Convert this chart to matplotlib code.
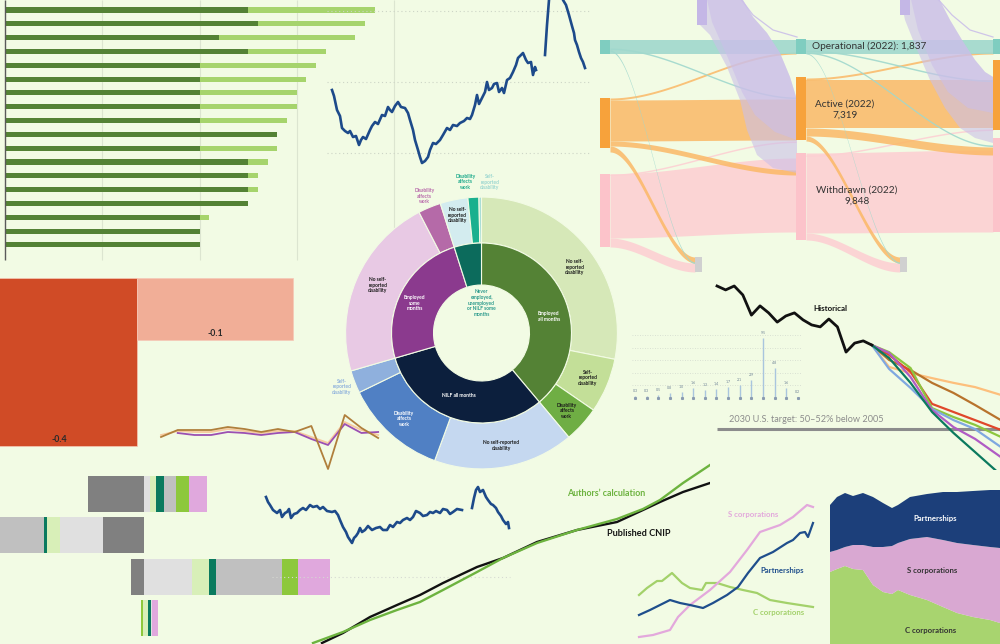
import numpy as np
import matplotlib
matplotlib.use("Agg")
import matplotlib.pyplot as plt

plt.rcParams['font.family'] = ['Lato', 'DejaVu Sans']
nan = np.nan

# ---------------- data ----------------
# top-left horizontal bars
hb_dark = [2.5, 2.6, 2.2, 2.5, 2.0, 2.0, 2.0, 2.0, 2.0, 2.8, 2.0, 2.5, 2.5, 2.5, 2.5, 2.0, 2.0, 2.0]
hb_total = [3.8, 3.7, 3.6, 3.3, 3.2, 3.1, 3.0, 3.0, 2.9, 2.8, 2.8, 2.7, 2.6, 2.6, 2.5, 2.1, 2.0, 2.0]
hb_grid = [1, 2, 3, 4]

# top blue index line
bt_t = [12, 14, 17, 20, 22, 25, 28, 30, 33, 36, 39, 41, 43, 46, 50, 52, 55, 58, 62, 65,
        68, 70, 72, 75, 78, 81, 85, 88, 90, 93, 95, 98, 100, 102, 105, 108, 110, 113, 116, 120,
        123, 127, 130, 133, 137, 140, 144, 147, 150, 152, 155, 157, 159, 162, 165, 167, 169, 172, 174, 177,
        179, 182, 184, 187, 190, 193, 196, 198, 201, 203, 206, 208, 211, 213, 215, 216,
        nan, 225, 227, 229, 230,
        nan, 241, 243, 246, 249, 252, 254, 255, 257, 259, 261, 263, 265]
bt_v = [80, 74, 60, 54, 42, 39, 37, 39, 33, 34, 25, 30, 33, 31, 40, 44, 48, 46, 55, 54,
        63, 60, 58, 64, 68, 63, 62, 57, 50, 40, 30, 20, 13, 7, 9, 13, 20, 27, 26, 30,
        35, 42, 40, 45, 44, 47, 49, 52, 51, 55, 65, 75, 66, 72, 78, 88, 80, 82, 86, 87,
        78, 82, 77, 90, 92, 98, 105, 112, 115, 117, 110, 107, 108, 95, 103, 100,
        nan, 115, 145, 170, 180,
        nan, 180, 170, 165, 155, 144, 137, 130, 125, 118, 112, 108, 102]
bt_grid = [17, 88, 159]

# bottom blue index line
bb_t = [16, 18, 20, 23, 27, 30, 32, 35, 37, 39, 41, 44, 47, 50, 53, 56, 60, 63, 67, 70,
        73, 77, 82, 85, 88, 90, 93, 96, 98, 100, 102, 104, 106, 108, 110, 112, 115, 118, 122, 126,
        130, 133, 137, 140, 143, 147, 150, 153, 157, 160, 163, 166, 170, 173, 177, 180, 183, 186, 190, 193,
        197, 200, 203, 207, 212,
        nan, 222, 224, 226, 228, 230, 233, 236, 238, 241, 243, 246, 248, 251, 253, 256, 258, 259]
bb_v = [53, 48, 45, 40, 37, 40, 33, 37, 38, 41, 32, 36, 37, 40, 42, 40, 45, 43, 44, 41,
        43, 39, 38, 39, 35, 30, 23, 18, 13, 10, 7, 12, 14, 17, 22, 18, 20, 24, 20, 22,
        23, 20, 20, 25, 23, 28, 27, 30, 32, 30, 33, 39, 37, 34, 35, 38, 37, 39, 37, 41,
        40, 36, 38, 41, 40,
        nan, 42, 52, 60, 63, 58, 60, 53, 50, 46, 45, 42, 38, 34, 30, 26, 28, 22]

# CNIP comparison
cn_t = [12, 33, 60, 87, 110, 133, 167, 193, 227, 267, 307, 333, 350, 373, 400]
cn_pub = [1, 11, 27, 39, 49, 61, 77, 86, 102, 114, 122, 134, 142, 152, 161]
cn_t2 = [3, 33, 60, 87, 110, 133, 167, 193, 227, 267, 307, 333, 350, 373, 400]
cn_auth = [1, 12, 24, 34, 42, 54, 72, 86, 101, 114, 125, 135, 144, 161, 179]

# business forms lines
bf_c_t = [19, 27, 37, 42, 52, 62, 70, 82, 86, 97, 110, 123, 137, 150, 167, 180, 193]
bf_c = [49, 56, 63, 63, 71, 61, 56, 54, 61, 61, 57, 54, 51, 44, 41, 39, 37]
bf_p_t = [19, 30, 40, 50, 60, 70, 83, 93, 107, 118, 128, 140, 153, 167, 173, 180, 185, 188, 193]
bf_p = [29, 34, 39, 44, 41, 39, 36, 41, 49, 57, 71, 86, 92, 101, 104, 111, 112, 107, 121]
bf_s_t = [19, 33, 50, 58, 70, 90, 110, 127, 140, 160, 173, 187, 193]
bf_s = [7, 9, 14, 27, 39, 54, 72, 94, 112, 119, 127, 139, 137]

# stacked area shares
ar_t = [0, 7, 15, 23, 33, 43, 53, 62, 68, 80, 97, 113, 127, 143, 160, 170]
ar_c = [72, 75, 78, 75, 74, 59, 52, 50, 54, 49, 44, 37, 31, 27, 24, 21]
ar_s = [20, 19, 19, 24, 25, 38, 45, 48, 47, 56, 63, 67, 70, 72, 73, 75]
ar_p = [47, 53, 54, 49, 52, 50, 44, 38, 38, 42, 43, 48, 51, 54, 57, 58]

# emissions (% of 2005)
em_years = list(range(2005, 2024))
em_hist = [100, 98.6, 100, 96.8, 89.6, 92.9, 90.4, 87.1, 89.3, 90.4, 87.9, 86.1, 85.4, 88.2, 85.4, 76.4, 79.6, 80.4, 78.9]
proj_years = [2023, 2025, 2027.5, 2030, 2032.5, 2035, 2038]
proj_orange = [78.9, 71.1, 68.9, 67.1, 65.4, 63.9, 61.1]
proj_brown = [78.9, 73.6, 70.0, 65.4, 61.8, 57.5, 52.1]
proj_red = [78.9, 75.4, 69.3, 57.9, 55.0, 52.1, 48.6]
proj_green = [78.9, 76.4, 70.7, 56.4, 53.2, 50.4, 46.1]
proj_blue = [78.9, 70.4, 63.6, 56.1, 52.1, 48.9, 42.5]
proj_purple = [78.9, 76.1, 67.5, 55.7, 49.6, 45.4, 38.9]
proj_dkgreen = [78.9, 74.3, 65.4, 55.0, 47.5, 40.7, 32.5]
target_value = 49
target_label = "2030 U.S. target: 50\u201352% below 2005"

# lollipop
lp_vals = [0.3, 0.3, 0.5, 0.8, 1.0, 1.6, 1.3, 1.4, 1.7, 2.1, 2.9, 9.5, 4.8, 1.6, 0.2]
lp_grid = [2, 4, 6, 8, 10]

# red bars
rb_vals = [-0.40, -0.148]

# small multi-line
ml_brown = [0.3, 1.0, 1.0, 1.0, 1.3, 1.1, 0.8, 1.1, 0.8, 1.4, -2.9, 2.5, 1.2, 0.2]
ml_purple = [nan, 0.7, 0.5, 0.5, 0.8, 0.7, 0.5, 0.7, 0.8, 0.1, -0.5, 1.6, 0.7, 0.8]
ml_peach = [0.5, 0.9, 0.8, 0.8, 1.1, 0.9, 0.7, 0.9, 0.9, 0.3, -0.3, 1.8, 1.0, 0.5]

# segmented bars
sg_start = [88, 0, 131, 141]
sg_widths = [[56, 6, 6, 8, 12, 13, 18],
             [44, 3, 13, 43, 41],
             [13, 48, 17, 7, 66, 16, 32],
             [1.7, 5, 3, 1.6, 6]]
sg_keys = [['dg', 'lg', 'pg', 'tl', 'mg', 'gr', 'pk'],
           ['mg', 'tl', 'pg', 'lg', 'dg'],
           ['dg', 'lg', 'pg', 'tl', 'mg', 'gr', 'pk'],
           ['gr', 'pg', 'tl', 'lg', 'pk']]

# donut
dn_inner = [38.9, 31.6, 24.6, 4.9]
dn_inner_lab = ["Employed\nall months", "NILF all months", "Employed\nsome\nmonths",
                "Never\nemployed,\nunemployed\nor NILF some\nmonths"]
dn_outer = [28.1, 6.5, 4.3, 16.7, 12.2, 2.7, 21.9, 2.7, 3.3, 1.3, 0.3]
dn_outer_lab = ["No self-\nreported\ndisability", "Self-\nreported\ndisability", "Disability\naffects\nwork",
                "No self-reported\ndisability", "Disability\naffects\nwork", "Self-\nreported\ndisability",
                "No self-\nreported\ndisability", "Disability\naffects\nwork",
                "No self-\nreported\ndisability", "Disability\naffects\nwork", "Self-\nreported\ndisability"]

# sankey node values
sk_names = ["Operational (2022)", "Active (2022)", "Withdrawn (2022)"]
sk_vals = [1837, 7319, 9848]

# ---------------- figure ----------------
BG = '#f2fbe4'
W, H = 1000, 644
fig = plt.figure(figsize=(10, 6.44), dpi=100, facecolor=BG)


def px_axes(x, y, w, h, z=1):
    ax = fig.add_axes([x / W, 1 - (y + h) / H, w / W, h / H], zorder=z)
    ax.set_axis_off()
    return ax


# A: top-left bars
ax = px_axes(5, 0, 389, 260, 1)
ax.set_xlim(0, 4)
ax.set_ylim(18.09, -0.72)
rows = np.arange(len(hb_dark))
ax.vlines(hb_grid, -0.72, 18.09, color='#dce5d0', lw=0.8, zorder=0, clip_on=False)
ax.vlines(0, -0.72, 18.09, color='#5a5a5a', lw=1.0, zorder=3, clip_on=False)
ax.barh(rows, hb_dark, height=0.37, color='#548235', zorder=2)
ax.barh(rows, np.array(hb_total) - np.array(hb_dark), left=hb_dark, height=0.37,
        color='#a6d46c', zorder=2)

# B: top blue line
ax = px_axes(320, 0, 280, 170, 2)
ax.set_xlim(0, 280)
ax.set_ylim(0, 170)
ax.hlines(bt_grid, 7, 270, color='#cdd5c6', lw=0.8, linestyles=(0, (1, 2.5)), zorder=0)
ax.plot(bt_t, bt_v, color='#1d4a8a', lw=1.9, solid_joinstyle='round')

# Sankey
ax = px_axes(600, 0, 400, 280, 2)
ax.set_xlim(600, 1000)
ax.set_ylim(280, 0)
band_col = {'teal': ('#a0d8cd', 0.9), 'orange': ('#fbb866', 0.85), 'pink': ('#fdd0d3', 0.9),
            'lav': ('#cbbfe9', 0.6)}
node_col = {'teal': '#7fcdc0', 'orange': '#f7a23b', 'pink': '#fcc3ca', 'gray': '#d0d0d0',
            'lav': '#c4b7e6'}


def band(x0, a0, a1, x1, b0, b1, kind, z):
    xs = np.linspace(x0, x1, 80)
    t = (xs - x0) / (x1 - x0)
    s = t * t * (3 - 2 * t)
    c, a = band_col[kind]
    ax.fill_between(xs, a0 + (b0 - a0) * s, a1 + (b1 - a1) * s, color=c, alpha=a, lw=0, zorder=z)


sk_flows = [
    (610, 174, 238, 796, 158, 232, 'pink'),
    (610, 238, 247, 695, 263, 272, 'pink'),
    (610, 174, 175.5, 796, 141, 142.5, 'pink'),
    (806, 153, 233, 993, 150, 232, 'pink'),
    (806, 233, 240, 900, 263, 272, 'pink'),
    (806, 155, 156.5, 993, 129, 130.5, 'pink'),
    (610, 100, 141, 796, 99, 140, 'orange'),
    (610, 98, 100, 796, 52, 54, 'orange'),
    (610, 141, 146, 796, 170, 175, 'orange'),
    (610, 146, 152, 695, 257, 263, 'orange'),
    (806, 80, 128, 993, 80, 128, 'orange'),
    (806, 78, 80, 993, 52, 54, 'orange'),
    (806, 128, 136, 993, 147, 155, 'orange'),
    (806, 136, 141, 900, 257, 263, 'orange'),
    (610, 40, 54, 796, 40, 54, 'teal'),
    (806, 40, 54, 993, 40, 54, 'teal'),
    (610, 50, 51.5, 695, 262, 263.5, 'teal'),
    (610, 48, 49.5, 796, 97, 98.5, 'teal'),
    (806, 50, 51.5, 993, 80, 81.5, 'teal'),
    (806, 52, 53.5, 993, 145, 146.5, 'teal'),
    (806, 53, 54, 900, 262, 263.5, 'teal'),
]
for f in sk_flows:
    band(*f, z=2)

# lavender links entering from a node above the view (outline: outer edge, inner edge)
lav_links = [
    ([(697, -5), (700, 25), (710, 35), (727, 67), (740, 100), (747, 130), (757, 155), (773, 168), (797, 173)],
     [(740, -5), (753, 17), (767, 33), (780, 53), (790, 77), (797, 100)]),
    ([(706, -5), (712, 22), (728, 58), (742, 92), (755, 115), (775, 132), (797, 140)],
     [(740, -5), (753, 17), (767, 33), (780, 53), (790, 77), (797, 100)]),
    ([(900, -5), (905, 20), (915, 45), (930, 80), (945, 108), (960, 128), (975, 138), (993, 143)],
     [(937, -5), (950, 20), (962, 40), (975, 60), (985, 72), (993, 77)]),
    ([(910, -5), (918, 30), (932, 65), (948, 92), (968, 108), (993, 113)],
     [(937, -5), (950, 20), (962, 40), (975, 60), (985, 72), (993, 77)]),
]
lc, la = band_col['lav']
for outer, inner in lav_links:
    poly = outer + inner[::-1]
    ax.add_patch(plt.Polygon(poly, closed=True, color=lc, alpha=la, lw=0, zorder=3))
lav_threads = [[(740, -2), (753, 15), (773, 30), (797, 37)],
               [(937, -2), (952, 15), (970, 30), (993, 37)]]
for th in lav_threads:
    xs, ys = zip(*th)
    ax.plot(xs, ys, color=lc, lw=0.9, alpha=0.9, zorder=3)

sk_nodes = [
    (600, 40, 54, 'teal'), (600, 98, 148, 'orange'), (600, 174, 247, 'pink'),
    (796, 39, 54, 'teal'), (796, 77, 140, 'orange'), (796, 153, 240, 'pink'),
    (993, 39, 54, 'teal'), (993, 60, 130, 'orange'), (993, 138, 232, 'pink'),
    (695, 257, 272, 'gray'), (900, 257, 272, 'gray'),
    (697, -50, 25, 'lav'), (900, -55, 15, 'lav'),
]
for x0, y0, y1, k in sk_nodes:
    ax.add_patch(plt.Rectangle((x0, y0), 10 if k != 'gray' else 7, y1 - y0, color=node_col[k],
                               lw=0, zorder=4))
ax.text(812, 46, f"{sk_names[0]}: {sk_vals[0]:,}", fontsize=7.2, color='#333333',
        ha='left', va='center', zorder=6)
ax.text(845, 110, f"{sk_names[1]}\n{sk_vals[1]:,}", fontsize=7.2, color='#333333',
        ha='center', va='center', linespacing=1.3, zorder=6)
ax.text(857, 196, f"{sk_names[2]}\n{sk_vals[2]:,}", fontsize=7.2, color='#333333',
        ha='center', va='center', linespacing=1.3, zorder=6)

# red bars
ax = px_axes(0, 270, 300, 180, 2)
ax.set_xlim(0, 300)
ax.set_ylim(-0.4095, 0.019)
rb_centers = [59, 215]
ax.bar(rb_centers, rb_vals, width=[156, 156], color=['#d04b26', '#f1ae97'],
       edgecolor='#f6c8b6', lw=0.5)
for cx, v in zip(rb_centers, rb_vals):
    ax.text(cx, v + 0.015, f"{v:.1f}", fontsize=6.3, fontweight='bold', color='#2a2a2a',
            ha='center', va='center')

# small multi-line
ax = px_axes(150, 400, 240, 80, 2)
ax.set_xlim(-0.66, 13.71)
ax.set_ylim(-4, 4)
ix = np.arange(len(ml_brown))
ax.plot(ix, ml_peach, color='#f7c99d', lw=1.3)
ax.plot(ix, ml_purple, color='#9b4fb2', lw=1.3)
ax.plot(ix, ml_brown, color='#b07f3c', lw=1.3)

# segmented bars
ax = px_axes(0, 470, 520, 174, 2)
ax.set_xlim(0, 520)
ax.set_ylim(3.63, -0.58)
sg_col = {'dg': '#808080', 'lg': '#e0e0e0', 'mg': '#c0c0c0', 'pg': '#d8efb8', 'tl': '#0a7a5e',
          'gr': '#8dc83c', 'pk': '#e0a8dd'}
for r, (st, ws, ks) in enumerate(zip(sg_start, sg_widths, sg_keys)):
    lefts = st + np.concatenate([[0], np.cumsum(ws)[:-1]])
    ax.barh(r, ws, left=lefts, height=0.87, color=[sg_col[k] for k in ks], lw=0)
ax.hlines(2, 272, 510, color='#d6d9d2', lw=0.8, linestyles=(0, (1, 2.5)), zorder=3)

# bottom blue line
ax = px_axes(250, 480, 280, 70, 2)
ax.set_xlim(0, 280)
ax.set_ylim(0, 70)
ax.plot(bb_t, bb_v, color='#1d4a8a', lw=1.9, solid_joinstyle='round')

# CNIP
ax = px_axes(310, 460, 400, 184, 3)
ax.set_xlim(0, 400)
ax.set_ylim(0, 184)
ax.plot(cn_t, cn_pub, color='#111111', lw=1.7)
ax.plot(cn_t2, cn_auth, color='#6db33f', lw=1.7)
ax.text(257, 151, "Authors\u2019 calculation", fontsize=6.4, fontweight='bold', color='#6db33f',
        ha='left', va='center')
ax.text(297, 110, "Published CNIP", fontsize=6.6, fontweight='bold', color='#151515',
        ha='left', va='center')

# business forms lines
ax = px_axes(620, 490, 210, 154, 3)
ax.set_xlim(0, 210)
ax.set_ylim(0, 154)
ax.plot(bf_c_t, bf_c, color='#a3d16a', lw=1.6)
ax.plot(bf_s_t, bf_s, color='#e3a8dc', lw=1.6)
ax.plot(bf_p_t, bf_p, color='#1f4e8c', lw=1.6)
ax.text(108, 129, "S corporations", fontsize=5.6, fontweight='bold', color='#e3a8dc', ha='left', va='center')
ax.text(140, 74, "Partnerships", fontsize=5.6, fontweight='bold', color='#1f4e8c', ha='left', va='center')
ax.text(133, 32, "C corporations", fontsize=5.6, fontweight='bold', color='#a3d16a', ha='left', va='center')

# stacked area
ax = px_axes(830, 490, 170, 154, 3)
ax.set_xlim(0, 170)
ax.set_ylim(0, 154)
ax.stackplot(ar_t, ar_c, ar_s, ar_p, colors=['#a8d46f', '#d9a8d2', '#1c3f7a'], lw=0)
ax.text(105, 125, "Partnerships", fontsize=5.6, fontweight='bold', color='white', ha='center', va='center')
ax.text(102, 73, "S corporations", fontsize=5.6, fontweight='bold', color='#333333', ha='center', va='center')
ax.text(101, 13, "C corporations", fontsize=5.6, fontweight='bold', color='#333333', ha='center', va='center')

# lollipop
ax = px_axes(630, 330, 172, 70, 2)
ax.set_xlim(-0.43, 14.35)
ax.set_ylim(-0.32, 10.79)
li = np.arange(len(lp_vals))
ax.hlines(lp_grid, -0.3, 14.3, color='#d2d8ce', lw=0.6, linestyles=(0, (1, 2)))
ax.vlines(li, 0, lp_vals, color='#a9c5de', lw=1.0)
ax.plot(li, np.zeros(len(li)), 's', ms=1.2, color='#8a9bb0')
for i, v in zip(li, lp_vals):
    ax.text(i, v + 0.5, f"{v:.1f}", fontsize=2.6, color='#6f8396', ha='center', va='bottom')

# emissions
ax = px_axes(620, 280, 380, 190, 4)
ax.set_xlim(1993.72, 2037.9)
ax.set_ylim(34.29, 102.14)
ax.hlines(target_value, 2005, 2040, color='#8c8c8c', lw=2.2)
ax.text(2006.4, 52.3, target_label, fontsize=6.6, color='#8c8c8c', ha='left', va='center')
for ser, c in [(proj_orange, '#fdbf7c'), (proj_brown, '#b8732c'), (proj_red, '#e0472b'),
               (proj_green, '#8cc63f'), (proj_blue, '#80a8e0'), (proj_purple, '#b05cc4'),
               (proj_dkgreen, '#0b7a5e')]:
    ax.plot(proj_years, ser, color=c, lw=1.6)
ax.plot(em_years, em_hist, color='#111111', lw=2.0)
ax.text(2016.2, 92.1, "Historical", fontsize=5.8, fontweight='bold', color='#111111', ha='left', va='center')

# donut
ax = px_axes(341.5, 193, 280, 280, 5)
oc = ['#d6e8b8', '#c3df98', '#6fae44', '#c5d8f0', '#5080c4', '#8fb0dd', '#e8c9e4', '#b56aa8',
      '#d3ecef', '#1ab08e', '#a6dcd6']
ic = ['#548235', '#0c1f3d', '#8b3a8e', '#0c6b5c']
wo, _ = ax.pie(dn_outer, radius=1.0, startangle=90, counterclock=False, colors=oc,
               wedgeprops=dict(width=0.338, edgecolor=BG, linewidth=0.8))
wi, _ = ax.pie(dn_inner, radius=0.662, startangle=90, counterclock=False, colors=ic,
               wedgeprops=dict(width=0.309, edgecolor=BG, linewidth=0.8))
ax.set_xlim(-1.03, 1.03)
ax.set_ylim(-1.03, 1.03)
out_r = [0.84, 0.85, 0.85, 0.84, 0.85, 1.10, 0.84, 1.09, 0.885, 1.12, 1.11]
out_da = [-4.2, 0, 0, 0, 0, 0, -1.5, 0, 0, 2.6, -3.7]
out_tc = ['#1a1a1a', '#1a1a1a', '#1a1a1a', '#1a1a1a', 'white', '#8db0dc', '#1a1a1a', '#b869aa',
          '#1a1a1a', '#1aa98a', '#9ad6d0']
for w, lab, r, da, tc in zip(wo, dn_outer_lab, out_r, out_da, out_tc):
    a = np.deg2rad((w.theta1 + w.theta2) / 2 + da)
    ax.text(r * np.cos(a), r * np.sin(a), lab, fontsize=3.5, fontweight='bold', color=tc,
            ha='center', va='center', linespacing=1.15)
in_r = [0.51, 0.49, 0.54, 0.22]
in_da = [-6, -3, 4, -9]
in_tc = ['white', 'white', 'white', '#2b9a8c']
for w, lab, r, da, tc in zip(wi, dn_inner_lab, in_r, in_da, in_tc):
    a = np.deg2rad((w.theta1 + w.theta2) / 2 + da)
    ax.text(r * np.cos(a), r * np.sin(a), lab, fontsize=3.5, fontweight='bold', color=tc,
            ha='center', va='center', linespacing=1.15)

fig.savefig('out.png', dpi=100, facecolor=BG)
